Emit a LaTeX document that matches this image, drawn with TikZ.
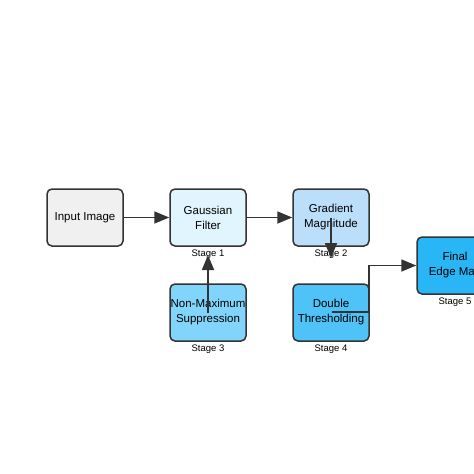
\documentclass[tikz,border=0pt]{standalone}
\usepackage{fontspec}
\setmainfont{Liberation Sans}
\usepackage{tikz}
\usetikzlibrary{arrows.meta, positioning}

\definecolor{boxline}{HTML}{333333}
\definecolor{inputfill}{HTML}{F0F0F0}
\definecolor{gaussfill}{HTML}{E1F5FE}
\definecolor{gradfill}{HTML}{BBDEFB}
\definecolor{nmsfill}{HTML}{81D4FA}
\definecolor{threshfill}{HTML}{4FC3F7}
\definecolor{finalfill}{HTML}{29B6F6}

\tikzset{
    stagebox/.style={draw=boxline, line width=1.5pt, rounded corners=5pt,
        minimum width=76pt, minimum height=57pt, align=center,
        font=\fontsize{11.5}{15}\selectfont, inner sep=0pt},
    stagelabel/.style={font=\fontsize{9.5}{11}\selectfont, inner sep=0pt},
    flow/.style={draw=boxline, line width=1.8pt,
        -{Triangle[length=15pt, width=12pt]}}
}

\begin{document}
\begin{tikzpicture}[x=1pt, y=-1pt]
                    \useasboundingbox (0,0) rectangle (474,474);
                    \clip (0,0) rectangle (474,474);

                    % boxes
                    \node[stagebox, fill=inputfill] (input) at (85, 217.5) {Input Image};
                    \node[stagebox, fill=gaussfill] (gauss) at (208, 217.5) {Gaussian\\Filter};
                    \node[stagebox, fill=gradfill] (grad) at (331, 217.5) {Gradient\\Magnitude};
                    \node[stagebox, fill=nmsfill] (nms) at (208, 312.5) {Non-Maximum\\Suppression};
                    \node[stagebox, fill=threshfill] (thresh) at (331, 312.5) {Double\\Thresholding};
                    \node[stagebox, fill=finalfill] (final) at (455, 265.5) {Final\\Edge Map};

                    % stage labels
                    \node[stagelabel, below=3pt of gauss] (s1) {Stage 1};
                    \node[stagelabel, below=3pt of grad] (s2) {Stage 2};
                    \node[stagelabel, below=3pt of nms] (s3) {Stage 3};
                    \node[stagelabel, below=3pt of thresh] (s4) {Stage 4};
                    \node[stagelabel, below=3pt of final] (s5) {Stage 5};

                    % arrows
                    \coordinate (gradend) at (331, 258);
                    \coordinate (nmsend) at (208, 255);
                    \coordinate (threshstart) at (332, 312);
                    \coordinate (bend) at (369, 265.5);

                    \draw[flow] (input.east) -- (gauss.west);
                    \draw[flow] (gauss.east) -- (grad.west);
                    \draw[flow] (grad.center) -- (gradend);
                    \draw[flow] (nms.center) -- (nmsend);
                    \draw[flow] (threshstart) -| (bend) -- (final.west);
                \end{tikzpicture}
\end{document}
